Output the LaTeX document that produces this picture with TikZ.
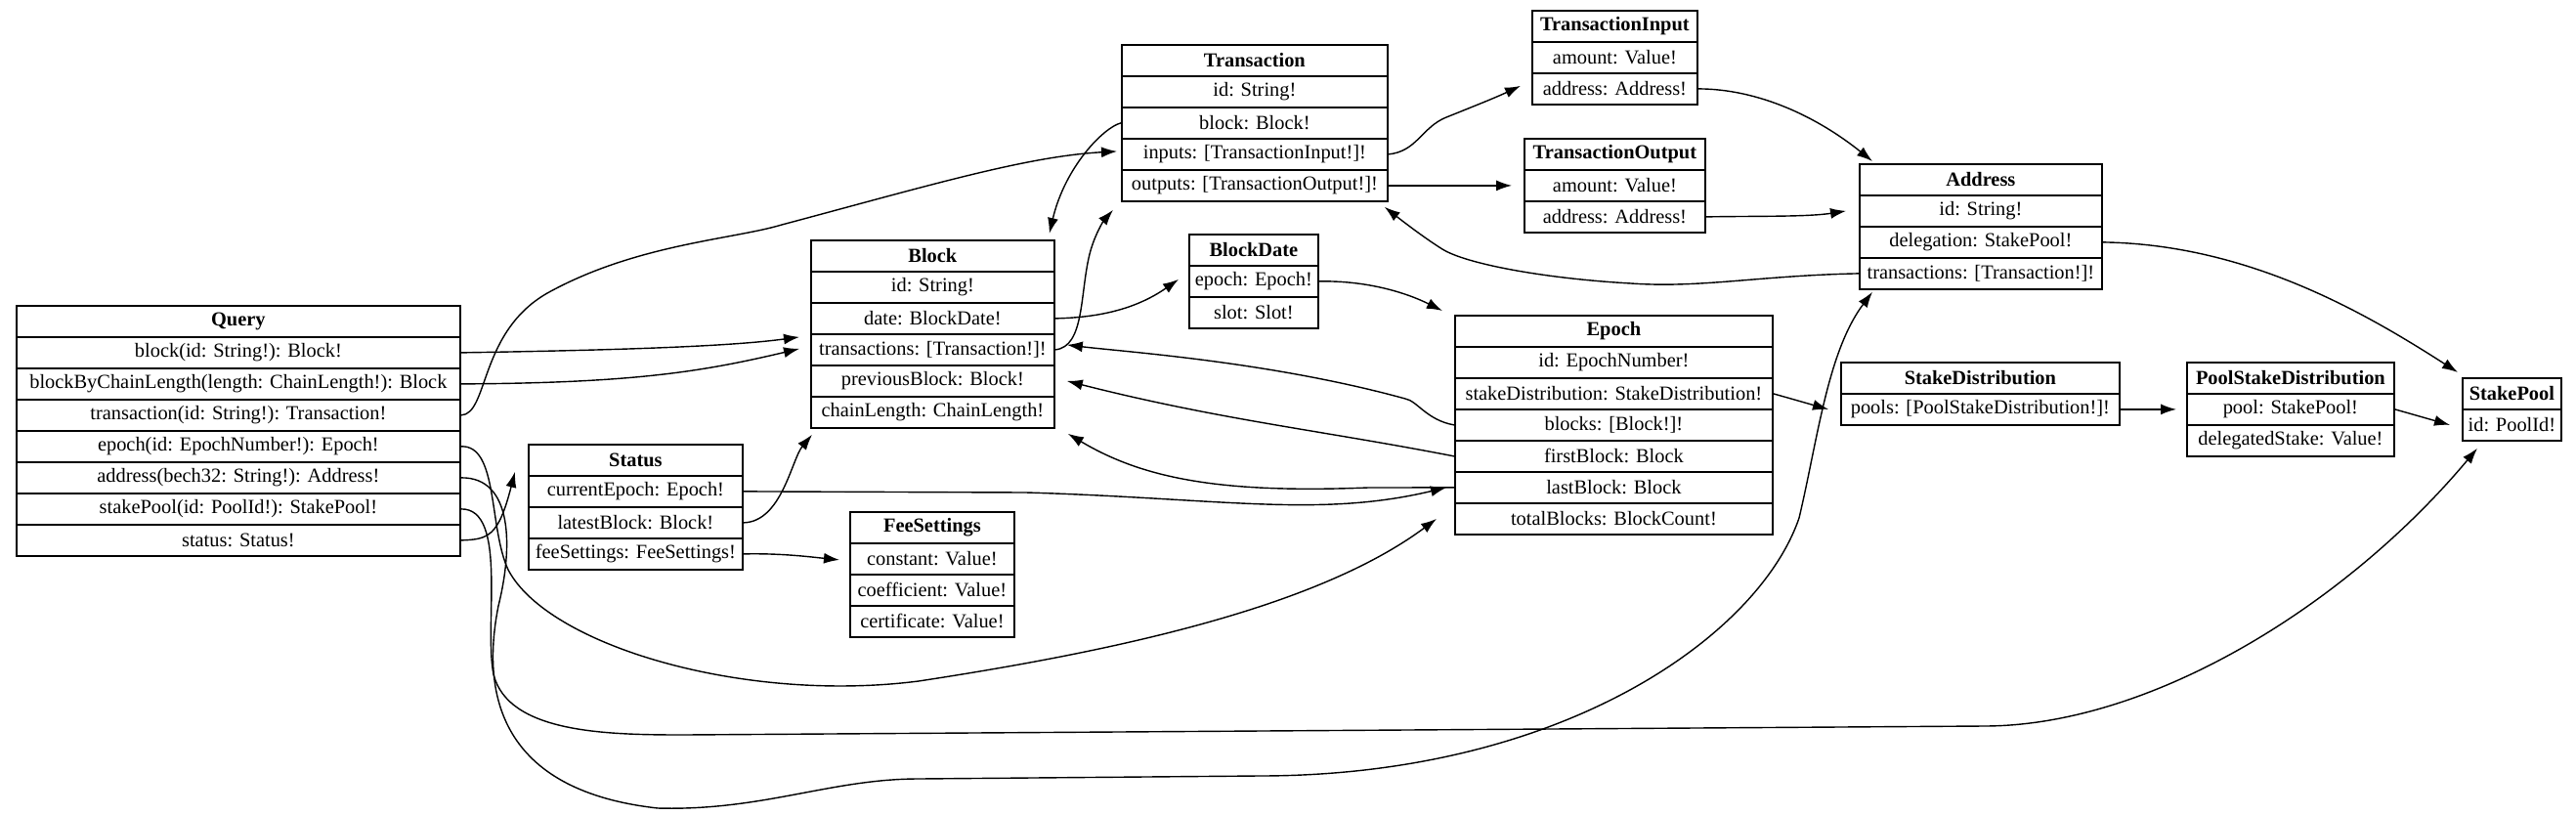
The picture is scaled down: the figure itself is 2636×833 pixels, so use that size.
\documentclass[tikz,border=0pt]{standalone}
\usepackage{fontspec}
\setmainfont{Liberation Serif}
\usetikzlibrary{arrows.meta}
\newcommand\rec[6]{%
 \node[cell,minimum width=#4*0.01cm,font=\fs\bfseries] (#1-0) at (#2,#3) {#5};
 \foreach \t [count=\i] in {#6}{\node[cell,minimum width=#4*0.01cm] (#1-\i) at (#2,{#3+32*\i}) {\t};}
}
\newcommand\fs{\fontsize{5.8}{6.5}\selectfont}
\begin{document}
\begin{tikzpicture}[x=0.01cm,y=-0.01cm,
 cell/.style={draw,line width=0.5pt,anchor=north west,minimum height=0.32cm,inner sep=0pt,font=\fs},
 e/.style={-{Latex[length=0.16cm,width=0.11cm]},line width=0.4pt}]
\useasboundingbox (0,0) rectangle (2636,833);
\rec{q}{16}{312}{454}{Query}{{block(id: String!): Block!},{blockByChainLength(length: ChainLength!): Block},{transaction(id: String!): Transaction!},{epoch(id: EpochNumber!): Epoch!},{address(bech32: String!): Address!},{stakePool(id: PoolId!): StakePool!},{status: Status!}}
\rec{st}{540}{454}{219}{Status}{{currentEpoch: Epoch!},{latestBlock: Block!},{feeSettings: FeeSettings!}}
\rec{fs}{869}{523}{168}{FeeSettings}{{constant: Value!},{coefficient: Value!},{certificate: Value!}}
\rec{blk}{829}{245}{249}{Block}{{id: String!},{date: BlockDate!},{transactions: [Transaction!]!},{previousBlock: Block!},{chainLength: ChainLength!}}
\rec{tx}{1147}{45}{272}{Transaction}{{id: String!},{block: Block!},{inputs: [TransactionInput!]!},{outputs: [TransactionOutput!]!}}
\rec{bd}{1216}{239}{132}{BlockDate}{{epoch: Epoch!},{slot: Slot!}}
\rec{ti}{1567}{10}{169}{TransactionInput}{{amount: Value!},{address: Address!}}
\rec{to}{1559}{141}{185}{TransactionOutput}{{amount: Value!},{address: Address!}}
\rec{ad}{1902}{167}{248}{Address}{{id: String!},{delegation: StakePool!},{transactions: [Transaction!]!}}
\rec{ep}{1488}{322}{325}{Epoch}{{id: EpochNumber!},{stakeDistribution: StakeDistribution!},{blocks: [Block!]!},{firstBlock: Block},{lastBlock: Block},{totalBlocks: BlockCount!}}
\rec{sd}{1883}{370}{285}{StakeDistribution}{{pools: [PoolStakeDistribution!]!}}
\rec{psd}{2237}{370}{212}{PoolStakeDistribution}{{pool: StakePool!},{delegatedStake: Value!}}
\rec{sp}{2519}{386}{101}{StakePool}{{id: PoolId!}}
% Query edges
\draw[e] (q-1.east) .. controls (650,358) and (750,354) .. ([shift={(-11,-13)}]blk-3.west);
\draw[e] (q-2.east) .. controls (650,392) and (720,380) .. ([shift={(-11,-1)}]blk-3.west);
\draw[e] (q-3.east) .. controls (500,424) and (490,340) .. (560,300) .. controls (650,250) and (750,245) .. (800,230) .. controls (950,190) and (1050,160) .. ([shift={(-4,-3)}]tx-3.west);
\draw[e] (q-4.east) .. controls (510,455) and (500,540) .. (520,583) .. controls (560,660) and (760,720) .. (940,697) .. controls (1150,665) and (1350,620) .. ([shift={(-18,0)}]ep-6.west);
\draw[e] (q-5.east) .. controls (525,488) and (525,560) .. (510,620) .. controls (490,720) and (520,810) .. (673,827) .. controls (780,830) and (850,797) .. (940,797) -- (1288,794) .. controls (1600,794) and (1800,650) .. (1841,530) .. controls (1860,450) and (1870,360) .. ([shift={(14,2)}]ad-3.south west);
\draw[e] (q-6.east) .. controls (520,520) and (495,640) .. (505,690) .. controls (520,750) and (620,752) .. (700,752) -- (2030,743) .. controls (2200,743) and (2400,620) .. ([shift={(16,7)}]sp-1.south west);
\draw[e] (q-7.east) .. controls (500,552) and (510,549) .. ([shift={(-13,-5)}]st-0.south west);
% Status edges
\draw[e] (st-1.east) -- (1050,504) .. controls (1250,510) and (1350,530) .. ([shift={(-8,0)}]ep-5.west);
\draw[e] (st-2.east) .. controls (800,534) and (810,470) .. ([shift={(2,6)}]blk-5.south west);
\draw[e] (st-3.east) .. controls (800,566) and (830,570) .. ([shift={(-10,1)}]fs-1.west);
% Block edges
\draw[e] (blk-2.east) .. controls (1120,325) and (1160,318) .. ([shift={(-10,-2)}]bd-1.west);
\draw[e] (blk-3.east) .. controls (1110,355) and (1105,300) .. (1115,260) .. controls (1120,240) and (1130,225) .. ([shift={(-8,8)}]tx-4.south west);
\draw[e] (tx-2.west) .. controls (1130,130) and (1090,170) .. ([shift={(-6,-6)}]blk-0.north east);
\draw[e] (tx-3.east) .. controls (1450,155) and (1455,130) .. (1480,120) .. controls (1510,108) and (1530,100) .. ([shift={(-11,-3)}]ti-2.west);
\draw[e] (tx-4.east) -- ([shift={(-12,0)}]to-1.west);
\draw[e] (bd-1.east) .. controls (1400,287) and (1440,300) .. ([shift={(-12,-4)}]ep-0.north west);
\draw[e] (ti-2.east) .. controls (1800,91) and (1860,120) .. ([shift={(14,-2)}]ad-0.north west);
\draw[e] (to-2.east) .. controls (1800,221) and (1850,222) .. ([shift={(-13,0)}]ad-1.west);
\draw[e] (ad-3.west) .. controls (1800,282) and (1740,295) .. (1669,290) .. controls (1580,285) and (1500,270) .. (1476,255) .. controls (1460,245) and (1440,230) .. ([shift={(-4,5)}]tx-4.south east);
\draw[e] (ad-2.east) .. controls (2300,250) and (2420,320) .. ([shift={(-4,-5)}]sp-0.north west);
% Epoch edges
\draw[e] (ep-2.east) -- ([shift={(-12,0)}]sd-1.west);
\draw[e] (ep-3.west) .. controls (1460,430) and (1450,410) .. (1438,408) .. controls (1300,370) and (1150,360) .. ([shift={(12,-5)}]blk-3.east);
\draw[e] (ep-4.west) .. controls (1350,440) and (1250,430) .. ([shift={(12,0)}]blk-4.east);
\draw[e] (ep-5.west) -- (1400,499) .. controls (1250,505) and (1170,490) .. ([shift={(13,5)}]blk-5.south east);
\draw[e] (sd-1.east) -- ([shift={(-10,0)}]psd-1.west);
\draw[e] (psd-1.east) -- ([shift={(-12,0)}]sp-1.west);
\end{tikzpicture}
\end{document}
